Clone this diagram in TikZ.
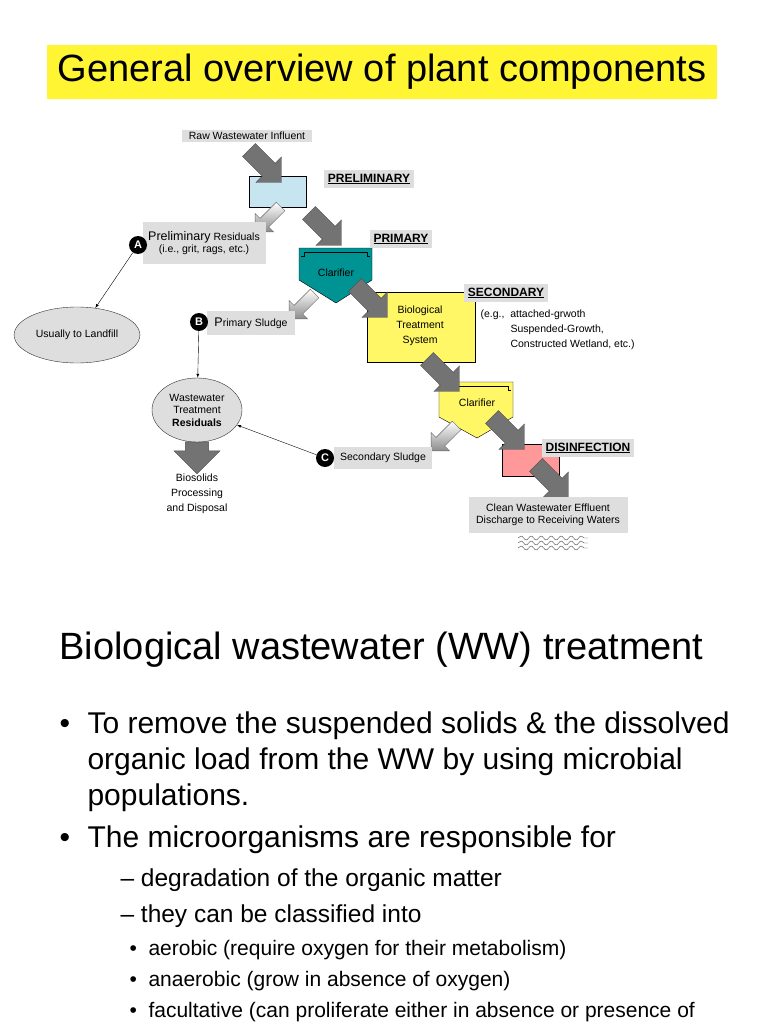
\documentclass[tikz,border=0pt]{standalone}
\usepackage{fontspec}
\setmainfont{Liberation Sans}
\usetikzlibrary{shapes.arrows,shapes.geometric,decorations.pathmorphing}
\begin{document}
\begin{tikzpicture}[x=1pt,y=-1pt,
  lbl/.style={fill=black!13,inner sep=2pt,font=\fontsize{10.5}{12.5}\selectfont,align=center},
  stage/.style={fill=black!13,inner sep=4pt,font=\fontsize{12}{14}\selectfont\bfseries},
  flow/.style={single arrow,draw=black!70,fill=black!55,minimum height=46pt,minimum width=36pt,
    single arrow head extend=8pt,inner sep=8pt},
  reject/.style={single arrow,draw=black!60,top color=white,bottom color=black!45,minimum height=36pt,
    minimum width=26pt,single arrow head extend=6pt,inner sep=5pt},
  tag/.style={circle,fill=black,text=white,inner sep=0pt,minimum size=18pt,font=\fontsize{11}{11}\selectfont\bfseries},
  sink/.style={ellipse,draw=black!80,fill=black!13,font=\fontsize{10.5}{12.5}\selectfont,align=center}]
\useasboundingbox (0,0) rectangle (768,1024);

% title
\node[fill=yellow!80!white,minimum width=670pt,minimum height=54pt,font=\fontsize{38}{40}\selectfont] (title) at (382,72) {General overview of plant components};

% process units
\draw[fill=cyan!20!white!95!black] (249,176) rectangle (306,207);
\coordinate (prelim) at (277,191);
\draw[fill=teal!85!cyan] (299,248) -- (372,248) -- (372,280) -- (336,303) -- (299,280) -- cycle;
\draw (301,256) -- (304,256) -- (304,252) -- (367,252) -- (367,256) -- (370,256);
\node[font=\fontsize{10.5}{12.5}\selectfont] (clar) at (336,273) {Clarifier};
\draw[fill=yellow!60] (367,292) rectangle (475,362);
\node[font=\fontsize{10.5}{15}\selectfont,align=center] (bio) at (420,326) {Biological\\Treatment\\System};
\draw[fill=yellow!60] (439,382) -- (513,382) -- (513,417) -- (477,438) -- (439,417) -- cycle;
\draw (441,390) -- (444,390) -- (444,386) -- (508,386) -- (508,390) -- (511,390);
\node[font=\fontsize{10.5}{12.5}\selectfont] (clar2) at (477,403) {Clarifier};
\draw[fill=red!40] (502,444) rectangle (559,476);

% flow arrows
\node[flow,rotate=-45] (f1) at (262,163) {};
\node[flow,rotate=-45] (f2) at (322,226) {};
\node[flow,rotate=-45] (f3) at (368,298) {};
\node[flow,rotate=-45] (f4) at (440,372) {};
\node[flow,rotate=-45] (f5) at (505,430) {};
\node[flow,rotate=-45] (f6) at (549,478) {};
\node[reject,rotate=-135] (r1) at (270,217) {};
\node[reject,rotate=-135] (r2) at (304,304) {};
\node[reject,rotate=-135] (r3) at (446,436) {};
\node[flow,rotate=-90,minimum height=32pt,minimum width=46pt] (down) at (197,452) {};

% labels
\node[lbl,minimum width=130pt] (raw) at (247,136) {Raw Wastewater Influent};
\node[stage] (s1) at (369,179) {\underline{PRELIMINARY}};
\node[lbl,minimum width=123pt,minimum height=42pt] (pres) at (204,243) {{\fontsize{12.5}{14}\selectfont Preliminary} Residuals\\(i.e., grit, rags, etc.)};
\node[stage] (s2) at (401,239) {\underline{PRIMARY}};
\node[lbl,minimum width=88pt,minimum height=24pt] (psl) at (251,323) {{\fontsize{12.5}{14}\selectfont P}rimary Sludge};
\node[stage] (s3) at (506,293) {\underline{SECONDARY}};
\node[font=\fontsize{10.5}{15}\selectfont,anchor=north west,align=left] (eg) at (477,306) {(e.g.,\ \ attached-grwoth\\\hspace{30pt}Suspended-Growth,\\\hspace{30pt}Constructed Wetland, etc.)};
\node[stage] (s4) at (588,448) {\underline{DISINFECTION}};
\node[lbl,minimum width=98pt,minimum height=22pt] (ssl) at (383,458) {Secondary Sludge};
\node[lbl,minimum width=159pt,minimum height=36pt] (eff) at (548,515) {Clean Wastewater Effluent\\Discharge to Receiving Waters};
\node[font=\fontsize{10.5}{15}\selectfont,align=center] (bios) at (197,494) {Biosolids\\Processing\\and Disposal};

% sinks
\node[sink,minimum width=90pt,minimum height=56pt] (land) at (77,335) {Usually to Landfill};
\node[sink,minimum width=90pt,minimum height=64pt] (resid) at (197,410) {Wastewater\\Treatment\\\textbf{Residuals}};

% tags and links
\node[tag] (A) at (138,245) {A};
\node[tag] (B) at (199,322) {B};
\node[tag] (C) at (325,458) {C};
\draw[-latex] (A) -- (land);
\draw[-latex] (B) -- (resid);
\draw[-latex] (C) -- (resid);

% receiving water
\foreach \y in {538,543,548}
  \draw[black!70,decorate,decoration={snake,amplitude=2pt,segment length=10pt}] (518,\y) -- (588,\y);

% text
\node[anchor=west,font=\fontsize{38}{40}\selectfont] (head) at (56,650) {Biological wastewater (WW) treatment};
\begin{scope}[every node/.style={anchor=west,font=\fontsize{30}{34}\selectfont}]
\node (b1) at (56,726) {•};
\node (t1) at (84,726) {To remove the suspended solids \& the dissolved};
\node (t2) at (84,762) {organic load from the WW by using microbial};
\node (t3) at (84,798) {populations.};
\node (b2) at (56,840) {•};
\node (t4) at (84,840) {The microorganisms are responsible for};
\end{scope}
\begin{scope}[every node/.style={anchor=west,font=\fontsize{24.5}{28}\selectfont}]
\node (t5) at (117,880) {– degradation of the organic matter};
\node (t6) at (117,916) {– they can be classified into};
\end{scope}
\begin{scope}[every node/.style={anchor=west,font=\fontsize{21}{24}\selectfont}]
\node (t7) at (126,950) {•\ \ aerobic (require oxygen for their metabolism)};
\node (t8) at (126,981) {•\ \ anaerobic (grow in absence of oxygen)};
\node (t9) at (126,1012) {•\ \ facultative (can proliferate either in absence or presence of};
\end{scope}
\end{tikzpicture}
\end{document}
